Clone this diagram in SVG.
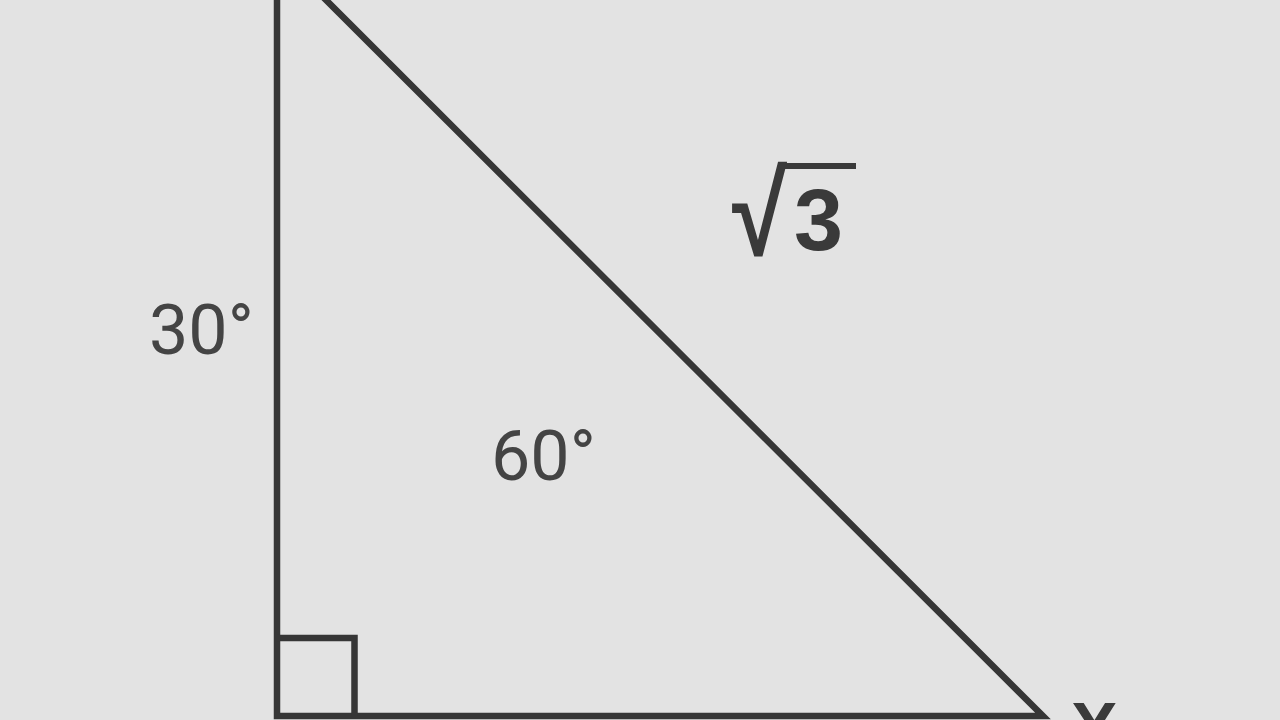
<svg xmlns="http://www.w3.org/2000/svg" width="1280" height="720" viewBox="0 0 1280 720">
<style>
.ln{fill:none;stroke:#363636;stroke-width:6.5;stroke-linejoin:miter;stroke-linecap:butt}
.ang{font-family:Roboto,"Liberation Sans",sans-serif;font-size:70px;fill:#444}
.big{font-family:"Liberation Sans",Arial,sans-serif;font-weight:bold;fill:#3a3a3a}
</style>
<rect width="1280" height="720" fill="#e3e3e3"/>
<g id="triangle">
<path class="ln" d="M277,-10 L277,716 L1043,716 L318,-8"/>
</g>
<g id="right-angle">
<path class="ln" d="M277,638 L354.5,638 L354.5,716"/>
</g>
<g id="label-30"><text class="ang" x="149" y="354">30°</text></g>
<g id="label-60"><text class="ang" x="491" y="480">60°</text></g>
<g id="label-sqrt3">
<text class="big" transform="translate(732,255) scale(1,1.18)" font-size="100" font-weight="normal">√</text>
<line x1="784" y1="166" x2="856" y2="166" stroke="#3a3a3a" stroke-width="6"/>
<text class="big" x="794" y="250" font-size="88">3</text>
</g>
<g id="label-x"><text class="big" x="1071" y="752" font-size="70">X</text></g>
</svg>
